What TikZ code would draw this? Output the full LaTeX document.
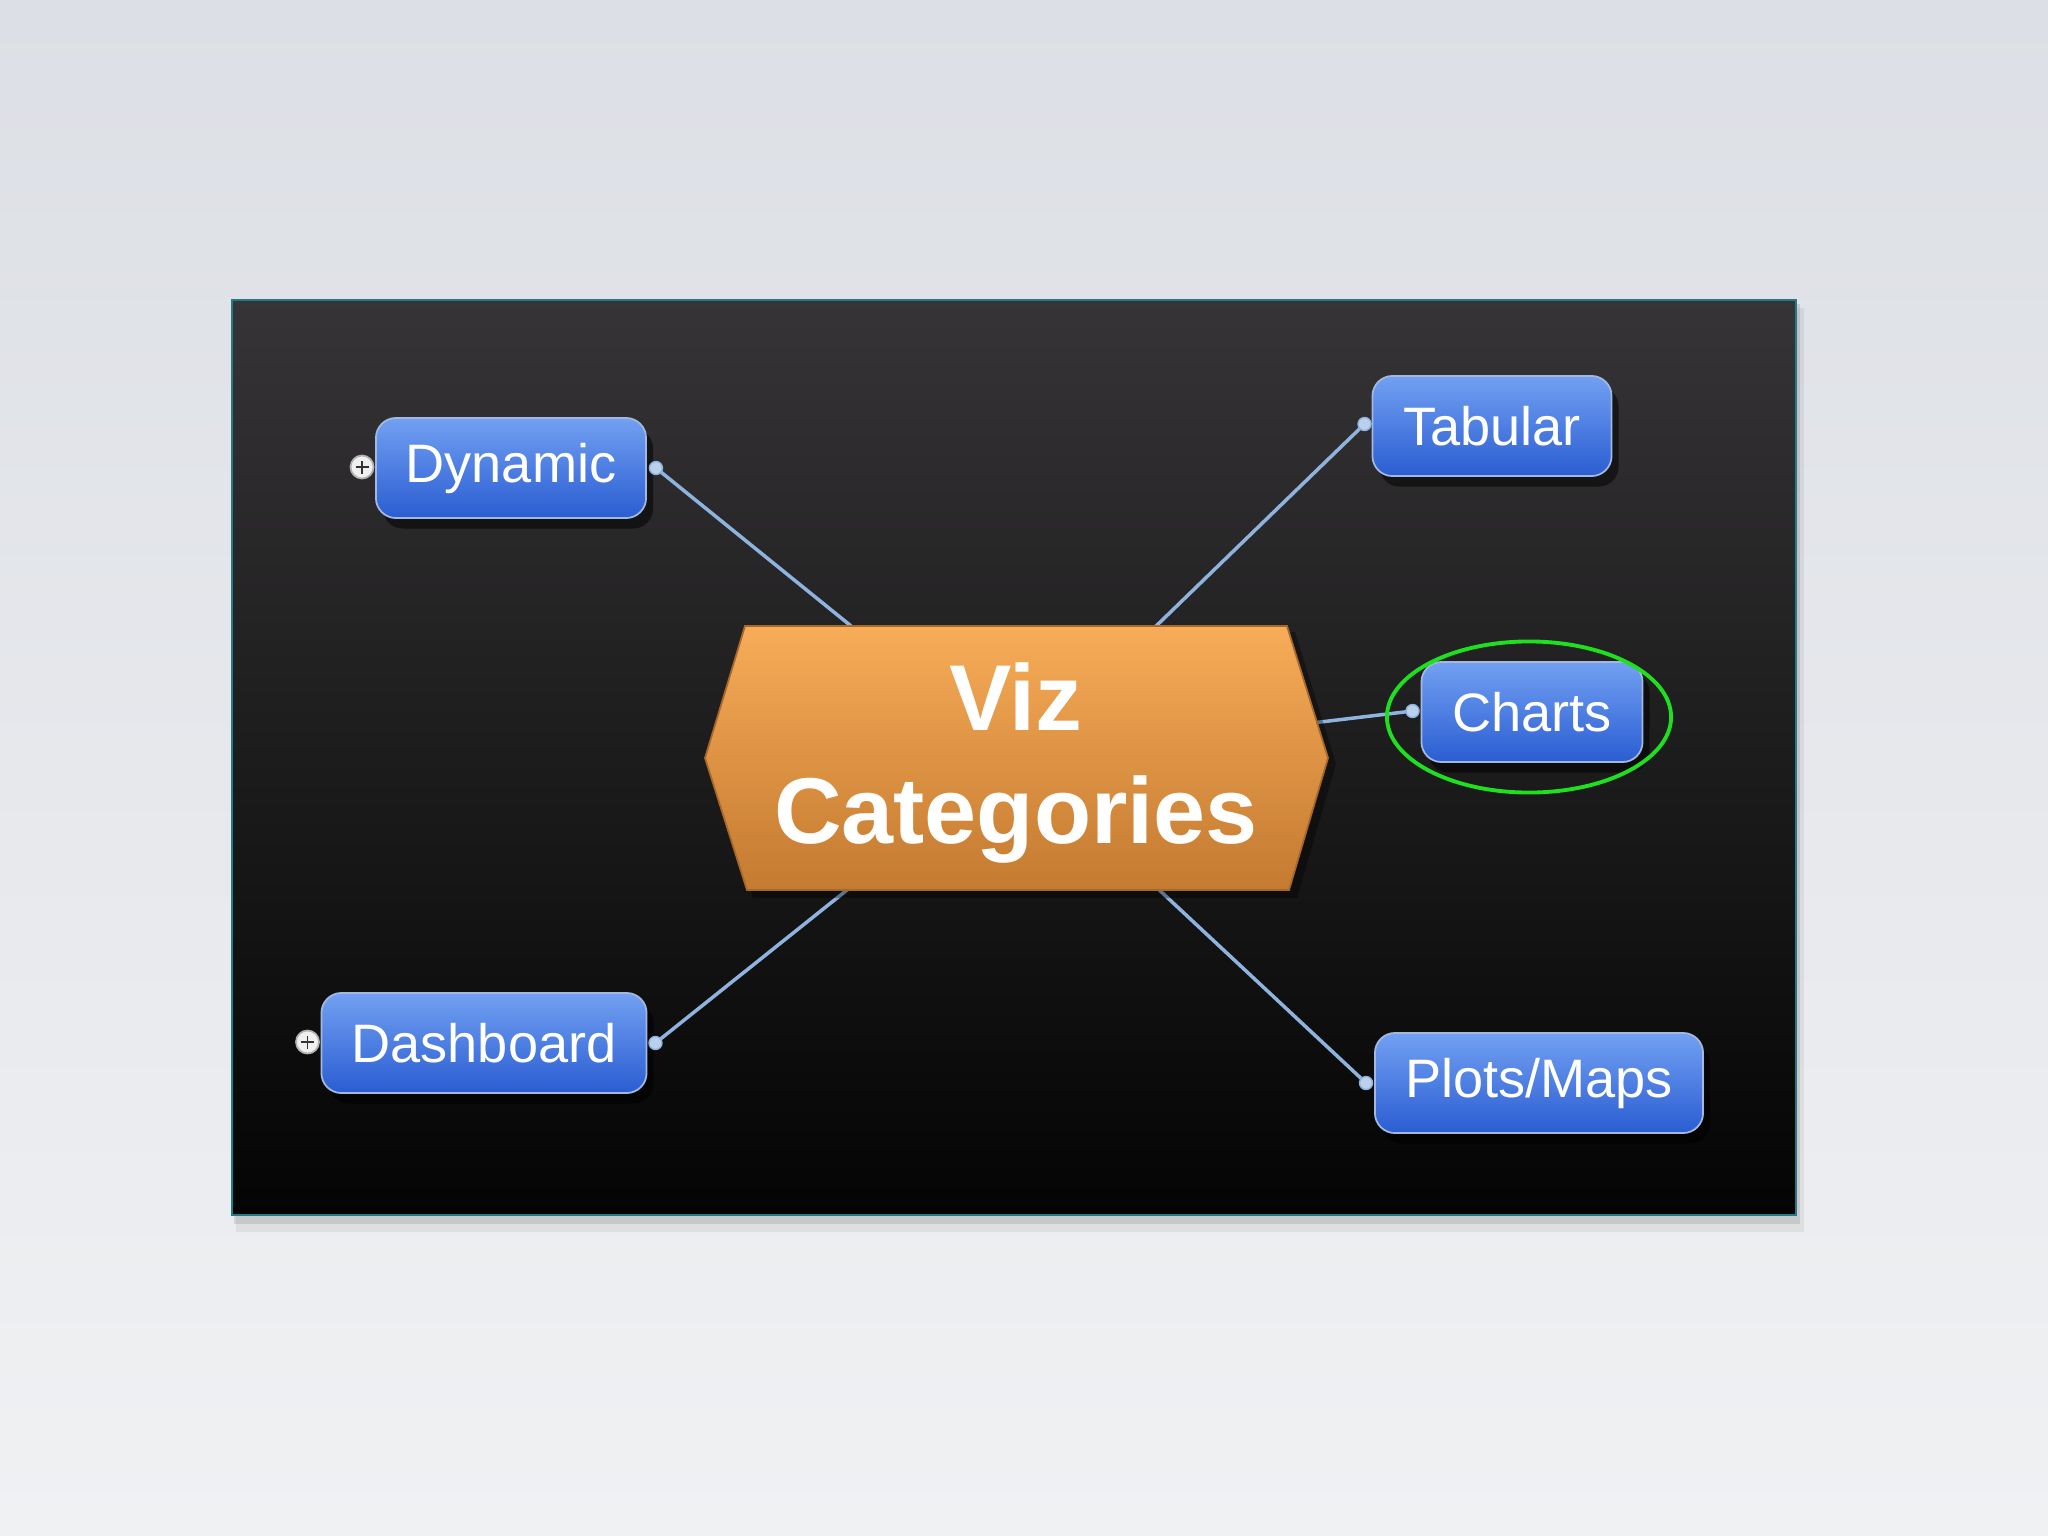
\documentclass[tikz,border=0pt]{standalone}
\usepackage{fontspec}
\setmainfont{Liberation Sans}
\usepackage{tikz}
\usetikzlibrary{calc, positioning, shadows}
\definecolor{bgtop}{HTML}{DCDFE5}
\definecolor{bgbot}{HTML}{F0F1F3}
\definecolor{paneltop}{HTML}{363436}
\definecolor{panelbot}{HTML}{040404}
\definecolor{paneledge}{HTML}{227A86}
\definecolor{boxtop}{HTML}{72A0F2}
\definecolor{boxmid}{HTML}{4A7EE6}
\definecolor{boxbot}{HTML}{2A5DD2}
\definecolor{boxedge}{HTML}{A2B8DE}
\definecolor{hextop}{HTML}{F7AC58}
\definecolor{hexbot}{HTML}{C47A30}
\definecolor{hexedge}{HTML}{A8682A}
\definecolor{linkblue}{HTML}{8DB3DE}
\definecolor{ringgreen}{HTML}{1EE01E}

\begin{document}
\begin{tikzpicture}[x=0.01cm, y=-0.01cm,
      topic/.style={draw=boxedge, line width=0.5pt, rounded corners=0.2cm,
                    top color=boxtop, middle color=boxmid, bottom color=boxbot,
                    minimum height=1cm, text=white, inner sep=0pt,
                    font=\fontsize{15.4}{18}\selectfont,
                    drop shadow={shadow xshift=2pt, shadow yshift=-3pt,
                                 fill=black, opacity=.5}},
      hubtext/.style={text=white, align=center, inner sep=0pt,
                      font=\fontsize{26.6}{31.9}\selectfont\bfseries},
      link/.style={linkblue, line width=1pt},
      knob/.style={circle, inner sep=0pt, minimum size=0.13cm,
                   fill=linkblue!60!white, draw=linkblue},
      expander/.style={circle, inner sep=0pt, minimum size=0.23cm,
                       fill=gray!12, draw=gray!60, line width=0.5pt,
                       path picture={
                         \draw[gray!40!black, line width=0.5pt]
                           ([xshift=-0.065cm]path picture bounding box.center) --
                           ([xshift=0.065cm]path picture bounding box.center)
                           ([yshift=-0.065cm]path picture bounding box.center) --
                           ([yshift=0.065cm]path picture bounding box.center);}}
    ]
    \useasboundingbox (0,0) rectangle (2048,1536);
    % backdrop and dark panel
    \shade[top color=bgtop, bottom color=bgbot] (0,0) rectangle (2048,1536);
    \fill[black, opacity=.06] (236,308) rectangle (1804,1232);
    \fill[black, opacity=.10] (234,304) rectangle (1800,1224);
    \shade[top color=paneltop, bottom color=panelbot] (232,300) rectangle (1796,1215);
    \draw[paneledge, line width=0.8pt] (232,300) rectangle (1796,1215);

    % topic boxes
    \node[topic, minimum width=2.70cm] (dyn)   at (511,468)  {Dynamic};
    \node[topic, minimum width=2.39cm] (tab)   at (1492,426) {Tabular};
    \node[topic, minimum width=2.21cm] (chart) at (1532,712) {Charts};
    \node[topic, minimum width=3.25cm] (dash)  at (484,1043) {Dashboard};
    \node[topic, minimum width=3.28cm] (plots) at (1539,1083) {Plots/Maps};

    % connector ends
    \coordinate (dyn-k)   at ($(dyn.east)+(9,0)$);
    \coordinate (tab-k)   at ($(tab.west)+(-7,-2)$);
    \coordinate (chart-k) at ($(chart.west)+(-8,-1)$);
    \coordinate (dash-k)  at ($(dash.east)+(8,0)$);
    \coordinate (plots-k) at ($(plots.west)+(-8,0)$);
    \coordinate (hubc) at (1016,758);
    \coordinate (hub-dyn)   at ($(hubc)+(-160,-128)$);
    \coordinate (hub-tab)   at ($(hubc)+(136,-128)$);
    \coordinate (hub-chart) at ($(hubc)+(296,-35)$);
    \coordinate (hub-dash)  at ($(hubc)+(-164,128)$);
    \coordinate (hub-plots) at ($(hubc)+(139,128)$);

    \draw[link] (dyn-k) -- (hub-dyn);
    \draw[link] (tab-k) -- (hub-tab);
    \draw[link] (chart-k) -- (hub-chart);
    \draw[link] (dash-k) -- (hub-dash);
    \draw[link] (plots-k) -- (hub-plots);

    % central hexagon
    \fill[black, opacity=.35] ($(hubc)+(-305,6)$) -- ($(hubc)+(-265,-126)$)
      -- ($(hubc)+(279,-126)$) -- ($(hubc)+(320,6)$) -- ($(hubc)+(281,140)$)
      -- ($(hubc)+(-263,140)$) -- cycle;
    \shade[top color=hextop, bottom color=hexbot, draw=hexedge, line width=0.5pt]
      ($(hubc)+(-311,0)$) -- ($(hubc)+(-271,-132)$) -- ($(hubc)+(271,-132)$)
      -- ($(hubc)+(312,0)$) -- ($(hubc)+(273,132)$) -- ($(hubc)+(-269,132)$) -- cycle;
    \node[hubtext] (hub) at ($(hubc)+(0,5)$) {Viz\\Categories};

    % knobs on the boxes
    \node[knob] at (dyn-k) {};
    \node[knob] at (tab-k) {};
    \node[knob] at (chart-k) {};
    \node[knob] at (dash-k) {};
    \node[knob] at (plots-k) {};
    \node[expander] (dyn-x)  at ($(dyn.west)+(-13,-1)$) {};
    \node[expander] (dash-x) at ($(dash.west)+(-13,-1)$) {};

    % highlight ring
    \draw[ringgreen, line width=1.1pt] (1529,717) ellipse [x radius=1.42cm, y radius=0.755cm];
  \end{tikzpicture}
\end{document}
